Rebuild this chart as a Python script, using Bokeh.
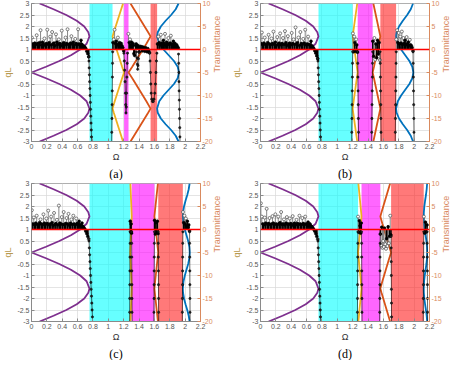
import math
import numpy as np
from bokeh.plotting import figure
from bokeh.models import Range1d, LinearAxis, FixedTicker, Title, BoxAnnotation, Span
from bokeh.layouts import gridplot
from bokeh.embed import file_html
from bokeh.resources import INLINE

NAN = float("nan")

# ---------------- axis ticks ----------------
X_TICKS = [0, 0.2, 0.4, 0.6, 0.8, 1.0, 1.2, 1.4, 1.6, 1.8, 2.0, 2.2]
X_LABELS = ["0", "0.2", "0.4", "0.6", "0.8", "1", "1.2", "1.4", "1.6", "1.8", "2", "2.2"]
Y_TICKS = [-3, -2.5, -2, -1.5, -1, -0.5, 0, 0.5, 1, 1.5, 2, 2.5, 3]
Y_LABELS = ["-3", "-2.5", "-2", "-1.5", "-1", "-0.5", "0", "0.5", "1", "1.5", "2", "2.5", "3"]
T_TICKS = [-20, -15, -10, -5, 0, 5, 10]
T_LABELS = ["-20", "-15", "-10", "-5", "0", "5", "10"]

# ---------------- dispersion curves (qL grid and read shapes) ----------------
QL = [-3, -2.75, -2.5, -2.25, -2, -1.75, -1.57, -1.25, -1, -0.75, -0.5, -0.25, 0,
      0.25, 0.5, 0.75, 1, 1.25, 1.57, 1.75, 2, 2.25, 2.5, 2.75, 3]
SHAPE_SIN = [0.14, 0.38, 0.60, 0.78, 0.91, 0.98, 1.0, 0.95, 0.84, 0.68, 0.48, 0.25, 0,
             0.25, 0.48, 0.68, 0.84, 0.95, 1.0, 0.98, 0.91, 0.78, 0.60, 0.38, 0.14]
SHAPE_TRI = [0.09, 0.25, 0.41, 0.57, 0.73, 0.89, 1.0, 0.81, 0.65, 0.49, 0.33, 0.17, 0,
             0.17, 0.33, 0.49, 0.65, 0.81, 1.0, 0.89, 0.73, 0.57, 0.41, 0.25, 0.09]
SHAPE_SMOOTH = [0.02, 0.15, 0.36, 0.61, 0.83, 0.97, 1.0, 0.90, 0.71, 0.47, 0.23, 0.06, 0,
                0.06, 0.23, 0.47, 0.71, 0.90, 1.0, 0.97, 0.83, 0.61, 0.36, 0.15, 0.02]

# band curves: [Omega at qL=0, Omega at qL=+-pi/2]
A_PURPLE = [0.0, 0.755]; A_YELLOW = [1.205, 1.055]; A_ORANGE = [1.263, 1.55]; A_BLUE = [1.92, 1.635]
B_PURPLE = [0.0, 0.755]; B_YELLOW = [1.265, 1.20]; B_ORANGE = [1.46, 1.56]; B_BLUE = [1.99, 1.765]
C_PURPLE = [0.0, 0.755]; C_YELLOW = [1.285, 1.305]; C_ORANGE = [1.65, 1.60]; C_BLUE = [2.06, 1.97]
D_PURPLE = [0.0, 0.755]; D_YELLOW = [1.27, 1.315]; D_ORANGE = [1.70, 1.56]; D_BLUE = [2.17, 2.125]

# stop bands [start, end]
A_CYAN = [0.755, 1.055]; A_MAGENTA = [1.205, 1.263]; A_SALMON = [1.55, 1.635]
B_CYAN = [0.755, 1.20];  B_MAGENTA = [1.265, 1.46];  B_SALMON = [1.56, 1.765]
C_CYAN = [0.755, 1.285]; C_MAGENTA = [1.305, 1.60];  C_SALMON = [1.65, 1.97]
D_CYAN = [0.755, 1.27];  D_MAGENTA = [1.315, 1.56];  D_SALMON = [1.70, 2.125]

# ---------------- transmittance: pass-band stems ----------------
A_SPANS = [[0.005, 0.745], [1.06, 1.20], [1.262, 1.535], [1.64, 1.912]]
A_S1 = [2.6, 1.2, 0.9, 1.4, 1.1, 3.1, 1.3, 0.8, 1.5, 4.2, 1.0, 1.6, 1.2, 2.4, 0.9, 1.3, 4.3, 1.1, 1.5, 2.8,
        1.0, 3.8, 1.2, 1.4, 0.9, 3.3, 1.6, 1.1, 2.2, 1.3, 0.8, 4.1, 1.2, 1.5, 1.0, 2.6, 1.3, 4.4, 1.1, 0.9,
        1.4, 2.9, 1.2, 1.6, 1.0, 2.3, 1.3, 1.1, 4.4, 1.2, 0.9, 2.0, 1.1, 0.8, 0.7, 0.5, 0.2, -0.4, -0.9, -1.6]
A_S2 = [1.5, 2.2, 4.3, 1.3, 1.8, 1.0, 2.6, 1.2, 1.5, 0.9, 1.3, 0.8, 0.4, -0.3]
A_S3 = [3.4, 1.5, 2.2, 1.0, 1.6, 0.8, 1.3, -0.9, -1.3, 0.9, 1.2, 0.6, 0.9, 0.3, -0.5, 0.7, 0.4, 0.6, -0.3,
        0.5, 0.2, -0.4, 0.4, 0.1, -0.5, 0.2, -0.3, -0.7]
A_S4 = [1.2, 2.8, 1.5, 1.0, 3.2, 1.4, 1.1, 2.0, 1.3, 3.4, 1.0, 1.6, 1.2, 2.5, 1.1, 1.4, 3.0, 1.2, 0.9, 1.8,
        1.1, 1.3, 0.8, 1.0, 0.6, 0.3]

B_SPANS = [[0.005, 0.745], [1.203, 1.262], [1.462, 1.555], [1.768, 1.985]]
B_S1 = [1.3, 3.7, 1.0, 1.4, 2.6, 1.1, 0.9, 1.5, 3.2, 1.2, 1.0, 2.4, 1.3, 3.9, 1.1, 1.6, 0.9, 2.7, 1.2, 1.4,
        3.5, 1.0, 1.3, 2.5, 1.1, 4.0, 1.5, 0.9, 2.9, 1.2, 1.4, 1.0, 3.6, 1.3, 2.2, 1.1, 4.8, 1.2, 1.5, 2.6,
        0.9, 3.8, 1.3, 1.1, 2.3, 1.4, 4.3, 1.0, 1.2, 2.8, 1.1, 0.9, 1.8, 0.8, 0.5, 0.2, -0.3, -0.8, -1.4, -2.0]
B_S2 = [3.5, -0.5, 2.8, 1.5, -0.4, 2.2, 1.0, -0.6]
B_S3 = [1.8, -1.5, 2.5, -2.2, 1.2, -1.8, 2.0, -1.0, 1.5, -2.3]
B_S4 = [2.2, 4.2, 1.5, 3.6, 1.2, 2.8, 1.4, 3.9, 1.1, 2.5, 1.3, 2.0, 1.0, 2.7, 1.2, 1.6, 0.9, 2.1, 1.0, 0.8,
        0.4, -0.3]

C_SPANS = [[0.005, 0.745], [1.286, 1.302], [1.602, 1.648], [1.972, 2.057]]
C_S1 = [4.2, 1.2, 2.6, 1.0, 1.4, 3.0, 1.1, 0.9, 1.5, 2.2, 1.2, 1.0, 3.3, 1.4, 1.1, 2.4, 1.3, 4.1, 1.0, 1.2,
        2.8, 1.5, 0.9, 3.6, 1.1, 1.3, 2.1, 1.0, 5.2, 1.4, 1.2, 2.7, 1.1, 3.8, 1.0, 1.3, 2.5, 1.2, 3.4, 0.9,
        1.4, 2.2, 1.1, 3.0, 1.2, 1.0, 2.4, 1.3, 1.1, 1.8, 1.0, 0.9, 1.4, 0.7, 0.4, 0.1, -0.4, -0.9, -1.5, -2.1]
C_S2 = [1.8, -0.5, 1.2, -0.8]
C_S3 = [2.0, -1.0, 1.5, -0.6, 1.8, -0.9]
C_S4 = [3.8, 1.5, 3.0, 1.2, 2.4, 0.8, 1.8, 0.5, 1.0, -0.3]

D_SPANS = [[0.005, 0.745], [1.27, 1.312], [1.56, 1.698], [2.127, 2.168]]
D_S1 = [5.7, 2.8, 1.2, 1.0, 2.6, 1.4, 4.5, 1.1, 1.3, 2.5, 1.0, 1.2, 2.9, 1.4, 1.1, 3.3, 1.2, 1.0, 2.8, 1.3,
        1.5, 3.8, 1.1, 1.2, 2.2, 1.0, 1.4, 2.7, 1.2, 1.1, 2.4, 1.3, 0.9, 2.9, 1.2, 1.4, 1.0, 2.1, 1.3, 1.1,
        3.0, 1.2, 1.0, 2.5, 1.3, 1.1, 2.8, 1.2, 1.0, 1.6, 0.9, 1.2, 0.8, 0.6, 0.3, 0.0, -0.4, -0.9, -1.5, -2.1]
D_S2 = [2.8, -0.6, 1.9, 0.8, -0.8, 1.4]
D_S3 = [-1.0, -3.5, 0.5, -4.0, -2.5, -3.8, 0.3, -3.2, -4.2, -2.0, -3.6, 0.6, -3.0, -1.5, 3.0, -1.2]
D_S4 = [2.8, -0.8, 1.6, -0.5, 1.0]

# ---------------- transmittance: band-edge falls / rises and dips ----------------
A_EDGE_X = [0.745, 0.748, 0.751, 0.754, 0.757, 0.760, 0.763, 0.766, 0.769, 0.772, 0.775, 0.778, 0.781, 0.784, NAN,
            1.043, 1.045, 1.047, 1.049, 1.051, 1.053, 1.055, 1.057, NAN,
            1.203, 1.208, 1.213, 1.218, 1.222, 1.226, 1.230, 1.234, 1.238, 1.242, 1.246, 1.250, NAN,
            1.365, 1.372, 1.378, 1.382, 1.386, 1.392, 1.398, NAN,
            1.538, 1.543, 1.548, 1.553, 1.558, 1.565, 1.575, 1.585, 1.595, 1.605, 1.613, 1.620, 1.626, 1.632, NAN,
            1.914, 1.916, 1.918, 1.920, 1.922, 1.924, 1.926, 1.928, 1.930, 1.932, 1.934]
A_EDGE_T = [-1.6, -2.5, -4, -5.5, -7, -8.5, -10, -11.5, -13, -14.5, -16, -17.5, -19, -21, NAN,
            -21, -18, -15, -12, -9, -6, -3, -0.5, NAN,
            -0.8, -2.5, -4.5, -7, -9.5, -12, -13.8, -12.5, -9.5, -6, -3, -0.8, NAN,
            -0.5, -1.8, -3.2, -4.3, -3.5, -2, -0.6, NAN,
            -0.8, -2.5, -5, -7.5, -9.5, -10.8, -11.3, -11.3, -10.8, -9.5, -7.5, -5, -2.5, -0.8, NAN,
            -1, -3, -5, -7, -9, -11, -13, -15, -17, -19, -21]

B_EDGE_X = [0.745, 0.748, 0.751, 0.754, 0.757, 0.760, 0.763, 0.766, 0.769, 0.772, 0.775, 0.778, 0.781, 0.784, NAN,
            1.186, 1.188, 1.190, 1.192, 1.194, 1.196, 1.198, 1.201, NAN,
            1.264, 1.266, 1.268, 1.270, 1.272, 1.274, 1.276, 1.278, NAN,
            1.446, 1.448, 1.450, 1.452, 1.454, 1.456, 1.458, 1.461, NAN,
            1.557, 1.559, 1.561, 1.563, 1.565, 1.567, 1.569, 1.571, NAN,
            1.753, 1.755, 1.757, 1.759, 1.761, 1.763, 1.765, 1.767, NAN,
            1.986, 1.988, 1.990, 1.992, 1.994, 1.996, 1.998, 2.000]
B_EDGE_T = [-2.0, -2.5, -4, -5.5, -7, -8.5, -10, -11.5, -13, -14.5, -16, -17.5, -19, -21, NAN,
            -21, -18, -15, -12, -9, -6, -3, -0.5, NAN,
            -0.5, -3, -6, -9, -12, -15, -18, -21, NAN,
            -21, -18, -15, -12, -9, -6, -3, -0.5, NAN,
            -0.5, -3, -6, -9, -12, -15, -18, -21, NAN,
            -21, -18, -15, -12, -9, -6, -3, -0.5, NAN,
            -0.5, -3, -6, -9, -12, -15, -18, -21]

C_EDGE_X = [0.745, 0.749, 0.753, 0.757, 0.761, 0.765, 0.769, 0.773, 0.777, 0.781, 0.785, 0.789, 0.793, 0.797, NAN,
            1.277, 1.278, 1.279, 1.280, 1.281, 1.282, 1.283, 1.285, NAN,
            1.303, 1.304, 1.305, 1.306, 1.307, 1.308, 1.309, 1.310, NAN,
            1.593, 1.594, 1.595, 1.596, 1.597, 1.598, 1.599, 1.601, NAN,
            1.649, 1.650, 1.651, 1.652, 1.653, 1.654, 1.655, 1.656, NAN,
            1.963, 1.964, 1.965, 1.966, 1.967, 1.968, 1.969, 1.971, NAN,
            2.058, 2.059, 2.060, 2.061, 2.062, 2.063, 2.064, 2.065]
C_EDGE_T = B_EDGE_T[:]

D_EDGE_X = [0.745, 0.748, 0.751, 0.754, 0.757, 0.760, 0.763, 0.766, 0.769, 0.772, 0.775, 0.778, 0.781, 0.784, NAN,
            1.261, 1.262, 1.263, 1.264, 1.265, 1.266, 1.267, 1.269, NAN,
            1.315, 1.316, 1.317, 1.318, 1.319, 1.320, 1.321, 1.322, NAN,
            1.551, 1.552, 1.553, 1.554, 1.555, 1.556, 1.557, 1.559, NAN,
            1.700, 1.701, 1.702, 1.703, 1.704, 1.705, 1.706, 1.707, NAN,
            2.118, 2.119, 2.120, 2.121, 2.122, 2.123, 2.124, 2.126, NAN,
            2.169, 2.170, 2.171, 2.172, 2.173, 2.174, 2.175, 2.176]
D_EDGE_T = [-2.1, -2.5, -4, -5.5, -7, -8.5, -10, -11.5, -13, -14.5, -16, -17.5, -19, -21, NAN,
            -21, -18, -15, -12, -9, -6, -3, -0.5, NAN,
            -0.5, -3, -6, -9, -12, -15, -18, -21, NAN,
            -21, -18, -15, -12, -9, -6, -3, -1.0, NAN,
            -1.5, -4, -7, -10, -13, -16, -19, -21, NAN,
            -21, -18, -15, -12, -9, -6, -3, -0.5, NAN,
            -0.5, -3, -6, -9, -12, -15, -18, -21]

PANELS = [
    ("(a)", [A_PURPLE, A_YELLOW, A_ORANGE, A_BLUE], [A_CYAN, A_MAGENTA, A_SALMON],
     A_SPANS, [A_S1, A_S2, A_S3, A_S4], A_EDGE_X, A_EDGE_T),
    ("(b)", [B_PURPLE, B_YELLOW, B_ORANGE, B_BLUE], [B_CYAN, B_MAGENTA, B_SALMON],
     B_SPANS, [B_S1, B_S2, B_S3, B_S4], B_EDGE_X, B_EDGE_T),
    ("(c)", [C_PURPLE, C_YELLOW, C_ORANGE, C_BLUE], [C_CYAN, C_MAGENTA, C_SALMON],
     C_SPANS, [C_S1, C_S2, C_S3, C_S4], C_EDGE_X, C_EDGE_T),
    ("(d)", [D_PURPLE, D_YELLOW, D_ORANGE, D_BLUE], [D_CYAN, D_MAGENTA, D_SALMON],
     D_SPANS, [D_S1, D_S2, D_S3, D_S4], D_EDGE_X, D_EDGE_T),
]

CURVE_SHAPES = [SHAPE_SIN, SHAPE_TRI, SHAPE_TRI, SHAPE_SMOOTH]
CURVE_COLORS = ["#7E2F8E", "#EDB120", "#D95319", "#0072BD"]
BAND_COLORS = [("#00FFFF", 0.6), ("#FF00FF", 0.6), ("#FF2020", 0.6)]
LEFT_COLOR = "#B89A4E"
RIGHT_COLOR = "#D98A5E"
TICK_COLOR = "#555555"
FONT = "Liberation Sans"
TALL = 2.0


def make_panel(label, curves, gaps, spans, stems, edge_x, edge_t):
    p = figure(width=229, height=180, x_range=Range1d(0, 2.2), y_range=Range1d(-3, 3),
               output_backend="svg", toolbar_location=None,
               min_border_left=1, min_border_right=1, min_border_top=3, min_border_bottom=0)
    p.extra_y_ranges = {"T": Range1d(-20, 10)}
    p.background_fill_color = "white"
    p.outline_line_color = "#9A9A9A"
    p.outline_line_width = 0.8

    p.xgrid.ticker = FixedTicker(ticks=X_TICKS)
    p.ygrid.ticker = FixedTicker(ticks=Y_TICKS)
    for g in (p.xgrid, p.ygrid):
        g.grid_line_color = "#D8D8D8"
        g.grid_line_width = 0.7

    for (lo, hi), (col, alpha) in zip(gaps, BAND_COLORS):
        p.add_layout(BoxAnnotation(left=lo, right=hi, fill_color=col, fill_alpha=alpha,
                                   line_alpha=0, level="underlay"))

    for i, (w0, wh) in enumerate(curves):
        om = [w0 + (wh - w0) * s for s in CURVE_SHAPES[i]]
        p.line(om, QL, line_color=CURVE_COLORS[i], line_width=1.8)

    # transmittance stems: dense short ones merge into a black mass, tall ones are thin grey
    for (lo, hi), vals in zip(spans, stems):
        xs = np.linspace(lo, hi, len(vals))
        tall = [abs(v) > TALL for v in vals]
        sx = [x for x, t in zip(xs, tall) if not t]
        sv = [v for v, t in zip(vals, tall) if not t]
        tx = [x for x, t in zip(xs, tall) if t]
        tv = [v for v, t in zip(vals, tall) if t]
        p.segment(x0=tx, y0=[0] * len(tx), x1=tx, y1=tv, y_range_name="T",
                  line_color="#6A6A6A", line_width=0.8)
        p.scatter(tx, tv, y_range_name="T", marker="circle", size=3.0,
                  line_color="#4A4A4A", line_width=0.7, fill_color="white")
        p.segment(x0=sx, y0=[0] * len(sx), x1=sx, y1=sv, y_range_name="T",
                  line_color="black", line_width=1.6)
        p.scatter(sx, sv, y_range_name="T", marker="circle", size=2.8,
                  line_color="black", line_width=0.6, fill_color="black")

    p.line(edge_x, edge_t, y_range_name="T", line_color="black", line_width=0.6)
    p.scatter(edge_x, edge_t, y_range_name="T", marker="circle", size=2.3,
              line_color="black", line_width=0.5, fill_color="#222222")

    p.add_layout(Span(location=0, dimension="width", y_range_name="T",
                      line_color="#FF0000", line_width=1.6))

    xa = p.xaxis[0]
    xa.ticker = FixedTicker(ticks=X_TICKS)
    xa.major_label_overrides = dict(zip(X_TICKS, X_LABELS))
    xa.axis_label = "Ω"
    ya = p.yaxis[0]
    ya.ticker = FixedTicker(ticks=Y_TICKS)
    ya.major_label_overrides = dict(zip(Y_TICKS, Y_LABELS))
    ya.axis_label = "qL"

    ra = LinearAxis(y_range_name="T", ticker=FixedTicker(ticks=T_TICKS))
    ra.major_label_overrides = dict(zip(T_TICKS, T_LABELS))
    ra.axis_label = "Transmittance"
    try:
        # read bottom-to-top, like the left label (MATLAB style)
        ra.axis_label_orientation = math.pi / 2
    except (AttributeError, ValueError):
        pass
    p.add_layout(ra, "right")

    for ax in (xa, ya, ra):
        ax.major_label_text_font = FONT
        ax.major_label_text_font_size = "7px"
        ax.major_label_text_color = TICK_COLOR
        ax.axis_label_text_font = FONT
        ax.axis_label_text_font_size = "9px"
        ax.axis_label_text_font_style = "normal"
        ax.axis_label_standoff = 1
        ax.major_label_standoff = 2
        ax.major_tick_in = 3
        ax.major_tick_out = 0
        ax.minor_tick_line_color = None
        ax.axis_line_color = "#8A8A8A"
        ax.major_tick_line_color = "#8A8A8A"
    xa.axis_label_standoff = 0
    xa.axis_label_text_color = "#333333"
    ya.axis_label_text_color = LEFT_COLOR
    ra.axis_label_text_color = RIGHT_COLOR
    ra.major_label_text_color = RIGHT_COLOR
    ra.axis_line_color = RIGHT_COLOR
    ra.major_tick_line_color = RIGHT_COLOR

    p.add_layout(Title(text=label, align="center", text_font="Liberation Serif",
                       text_font_size="12px", text_font_style="normal",
                       text_color="black", standoff=0), "below")
    return p


figs = [make_panel(*args) for args in PANELS]
grid = gridplot([[figs[0], figs[1]], [figs[2], figs[3]]], toolbar_location=None)

open("out.html", "w").write(file_html(grid, INLINE))
